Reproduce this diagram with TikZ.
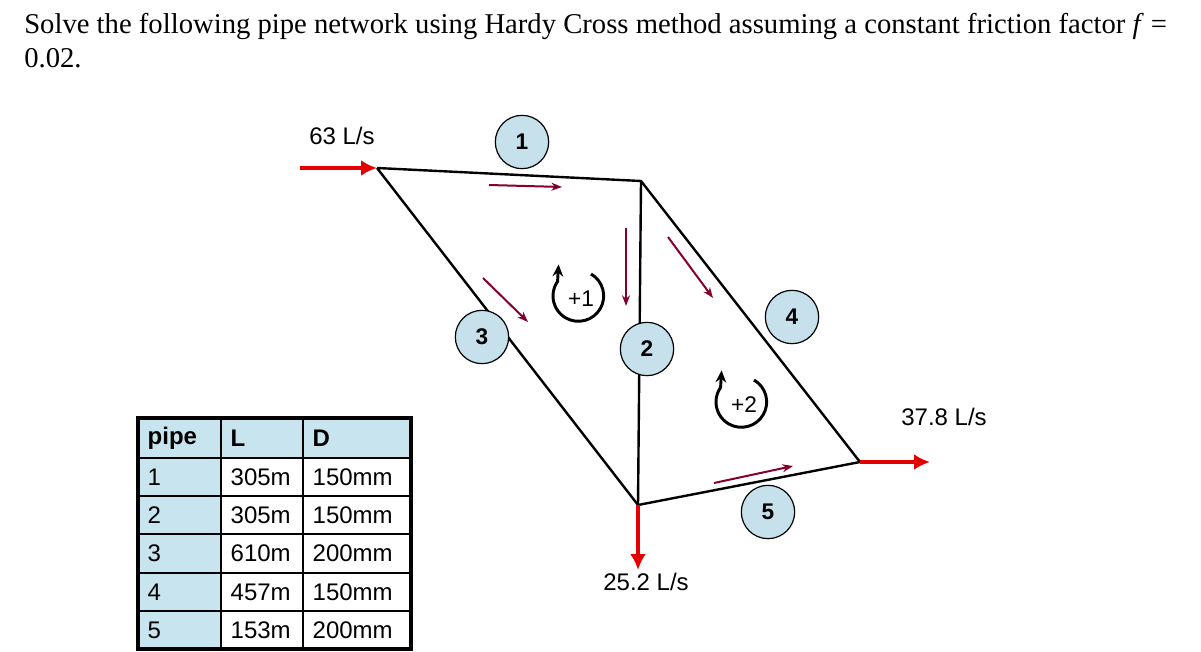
\documentclass[tikz,border=0pt]{standalone}
\usepackage{fontspec}
\setmainfont{Liberation Serif}
\newfontfamily\arial{Liberation Sans}
\begin{document}
\begin{tikzpicture}[x=0.75pt,y=-0.75pt,
 pipe/.style={black,line width=1.8pt},
 feed/.style={red!90!black,line width=3.6pt,-{Latex[length=12pt,width=12pt]}},
 dir/.style={purple!70!black,line width=1.5pt,-{Stealth[length=8pt]}},
 num/.style={circle,draw=black,line width=0.9pt,fill=cyan!20!white!85!gray,minimum size=40pt,inner sep=0pt,font=\arial\bfseries\fontsize{17}{19}\selectfont},
 lbl/.style={font=\arial\fontsize{18}{20}\selectfont},
 cell/.style={anchor=west,font=\arial\fontsize{18}{20}\selectfont}]
\usetikzlibrary{arrows.meta}
\useasboundingbox (0,0) rectangle (1201,652);
\node[anchor=north west,align=left,font=\fontsize{21.5}{25.5}\selectfont,inner sep=0pt] (title) at (24,13)
 {Solve the following pipe network using Hardy Cross method assuming a constant friction factor \textit{f} =\\0.02.};
\coordinate (A) at (377,168); \coordinate (B) at (641,181);
\coordinate (C) at (638,505); \coordinate (D) at (860,462);
\coordinate (in) at (300,168); \coordinate (out) at (930,462); \coordinate (dn) at (638,570);
\draw[pipe] (A)--(B)--(D)--(C)--(A); \draw[pipe] (B)--(C);
\draw[feed] (in)--(A); \draw[feed] (D)--(out); \draw[feed] (C)--(dn);
\node[num] (n1) at (522,142) {1};
\node[num] (n3) at (482,337) {3};
\node[num] (n2) at (647,349) {2};
\node[num] (n4) at (792,317) {4};
\node[num] (n5) at (768,512) {5};
\draw[dir] (489,185)--(562,187);
\draw[dir] (626,228)--(626,306);
\draw[dir] (483,278)--(528,322);
\draw[dir] (668,237)--(713,298);
\draw[dir] (714,483)--(793,466);
\node[lbl] (q1) at (342,136) {63 L/s};
\node[lbl] (q2) at (944,417) {37.8 L/s};
\node[lbl] (q3) at (646,582) {25.2 L/s};
\foreach \x/\y/\t in {575/302/1,738/408/2}{
 \draw[line width=2.2pt,-{Stealth[length=9pt,width=8pt]}] (\x+16,\y-28) arc (60:-215:19pt) -- ++(1,-17);
 \node[font=\arial\fontsize{17}{19}\selectfont] at (\x+6,\y-3) {+\t};
}
% table
\fill[cyan!20!white!88!gray] (138,418) rectangle (411,458);
\fill[cyan!20!white!88!gray] (138,458) rectangle (221,649);
\draw[line width=1.2pt] (221,418)--(221,649) (303,418)--(303,649);
\foreach \y in {458,496,534,573,611} \draw[line width=1.2pt] (138,\y)--(411,\y);
\draw[line width=2.8pt] (138,418) rectangle (411,649);
\node[cell,font=\arial\bfseries\fontsize{18}{20}\selectfont] (h1) at (143,438) {pipe};
\node[cell,font=\arial\bfseries\fontsize{18}{20}\selectfont] (h2) at (226,438) {L};
\node[cell,font=\arial\bfseries\fontsize{18}{20}\selectfont] (h3) at (308,438) {D};
\foreach \y/\p/\l/\d in {477/1/305m/150mm,515/2/305m/150mm,553/3/610m/200mm,592/4/457m/150mm,630/5/153m/200mm}{
 \node[cell] at (143,\y) {\p};
 \node[cell] at (226,\y) {\l};
 \node[cell] at (308,\y) {\d};
}
\end{tikzpicture}
\end{document}
